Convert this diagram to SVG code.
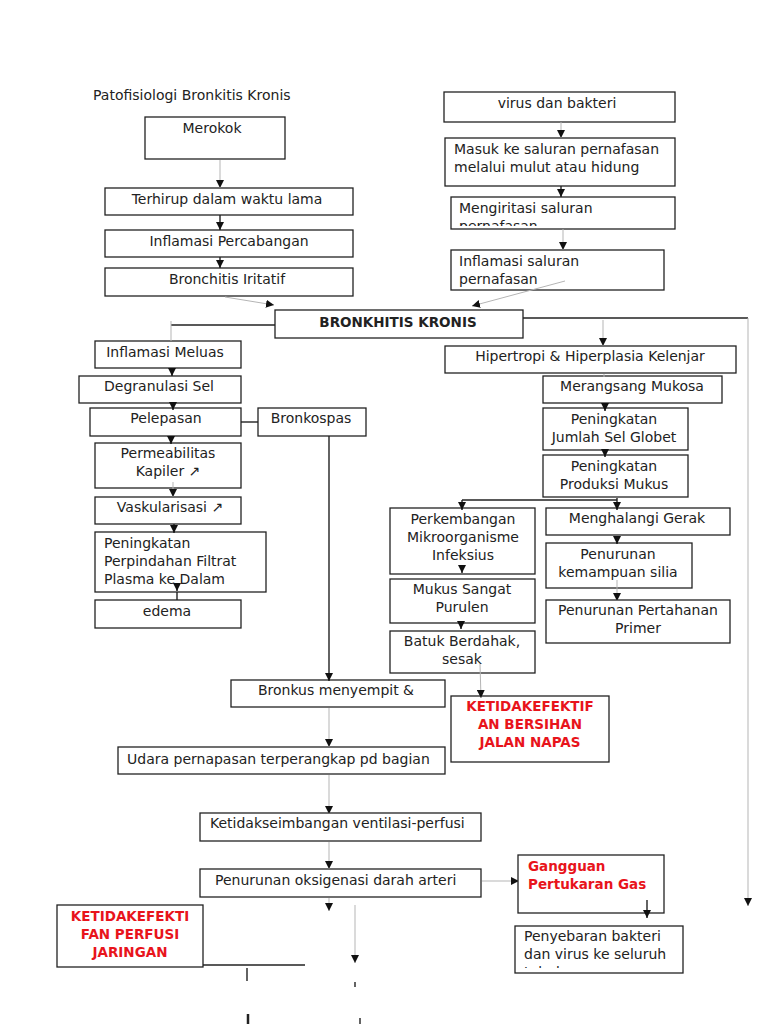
<svg xmlns="http://www.w3.org/2000/svg" width="768" height="1024" viewBox="0 0 768 1024">
<style>
text{font-family:"DejaVu Sans","Liberation Sans",sans-serif;font-size:14px;fill:#222}
.c{text-anchor:middle}
.b{font-weight:bold;font-size:13.5px}
.r{fill:#e8141b;font-weight:bold;font-size:13.5px}
rect{fill:#fff;stroke:#222;stroke-width:1.3}
.d{stroke:#222;stroke-width:1.4;fill:none}
.g{stroke:#b5b5b5;stroke-width:1;fill:none}
.a{marker-end:url(#ah)}
</style>
<defs>
<marker id="ah" viewBox="0 0 8 8" refX="8" refY="4" markerWidth="8" markerHeight="8" markerUnits="userSpaceOnUse" orient="auto"><path d="M0,0 L8,4 L0,8 z" fill="#111"/></marker>
<clipPath id="c1"><rect x="451" y="197" width="224" height="29"/></clipPath>
<clipPath id="c2"><rect x="515" y="926" width="168" height="42"/></clipPath>
</defs>
<rect width="768" height="1024" style="fill:#fff;stroke:none"/>
<text x="93" y="100">Patofisiologi Bronkitis Kronis</text>

<g id="merokok"><rect x="145" y="117" width="140" height="42"/><text class="c" x="212" y="133">Merokok</text></g>
<g id="terhirup"><rect x="105" y="188" width="248" height="27"/><text class="c" x="227" y="204">Terhirup dalam waktu lama</text></g>
<g id="inflamasi-percabangan"><rect x="105" y="230" width="248" height="27"/><text class="c" x="229" y="246">Inflamasi Percabangan</text></g>
<g id="bronchitis-iritatif"><rect x="105" y="268" width="248" height="28"/><text class="c" x="227" y="284">Bronchitis Iritatif</text></g>

<g id="virus"><rect x="444" y="92" width="231" height="30"/><text class="c" x="557" y="108">virus dan bakteri</text></g>
<g id="masuk"><rect x="445" y="138" width="230" height="48"/><text x="454" y="154">Masuk ke saluran pernafasan</text><text x="454" y="172">melalui mulut atau hidung</text></g>
<g id="mengiritasi"><rect x="451" y="197" width="224" height="32"/><g clip-path="url(#c1)"><text x="459" y="213">Mengiritasi saluran</text><text x="459" y="231">pernafasan</text></g></g>
<g id="inflamasi-saluran"><rect x="451" y="250" width="213" height="40"/><text x="459" y="266">Inflamasi saluran</text><text x="459" y="284">pernafasan</text></g>

<g id="bronkhitis-kronis"><rect x="275" y="310" width="248" height="28"/><text class="c b" x="398" y="327">BRONKHITIS KRONIS</text></g>

<g id="inflamasi-meluas"><rect x="95" y="341" width="146" height="27"/><text class="c" x="165" y="357">Inflamasi Meluas</text></g>
<g id="degranulasi"><rect x="79" y="376" width="162" height="27"/><text class="c" x="159" y="391">Degranulasi Sel</text></g>
<g id="pelepasan"><rect x="90" y="408" width="151" height="28"/><text class="c" x="166" y="423">Pelepasan</text></g>
<g id="bronkospas"><rect x="258" y="408" width="108" height="28"/><text class="c" x="311" y="423">Bronkospas</text></g>
<g id="permeabilitas"><rect x="95" y="443" width="146" height="45"/><text class="c" x="168" y="458">Permeabilitas</text><text class="c" x="168" y="476">Kapiler ↗</text></g>
<g id="vaskularisasi"><rect x="95" y="497" width="146" height="27"/><text class="c" x="170" y="512">Vaskularisasi ↗</text></g>
<g id="peningkatan-filtrat"><rect x="95" y="532" width="171" height="60"/><text x="104" y="548">Peningkatan</text><text x="104" y="566">Perpindahan Filtrat</text><text x="104" y="584">Plasma ke Dalam</text></g>
<g id="edema"><rect x="95" y="600" width="146" height="28"/><text class="c" x="167" y="616">edema</text></g>

<g id="bronkus"><rect x="231" y="680" width="214" height="27"/><text class="c" x="336" y="695">Bronkus menyempit &amp;</text></g>
<g id="udara"><rect x="118" y="747" width="327" height="27"/><text x="127" y="764">Udara pernapasan terperangkap pd bagian</text></g>
<g id="ketidakseimbangan"><rect x="200" y="813" width="281" height="28"/><text x="210" y="828">Ketidakseimbangan ventilasi-perfusi</text></g>
<g id="penurunan-oksigenasi"><rect x="200" y="869" width="281" height="28"/><text x="215" y="885">Penurunan oksigenasi darah arteri</text></g>
<g id="gangguan"><rect x="518" y="855" width="146" height="58"/><text class="r" x="528" y="871">Gangguan</text><text class="r" x="528" y="889">Pertukaran Gas</text></g>
<g id="penyebaran"><rect x="515" y="926" width="168" height="47"/><g clip-path="url(#c2)"><text x="524" y="941">Penyebaran bakteri</text><text x="524" y="959">dan virus ke seluruh</text><text x="524" y="977">tubuh</text></g></g>
<g id="perfusi"><rect x="57" y="905" width="146" height="62"/><text class="c r" x="130" y="921">KETIDAKEFEKTI</text><text class="c r" x="130" y="939">FAN PERFUSI</text><text class="c r" x="130" y="957">JARINGAN</text></g>

<g id="hipertropi"><rect x="445" y="346" width="291" height="27"/><text class="c" x="590" y="361">Hipertropi &amp; Hiperplasia Kelenjar</text></g>
<g id="merangsang"><rect x="543" y="376" width="179" height="27"/><text class="c" x="632" y="391">Merangsang Mukosa</text></g>
<g id="jumlah-sel"><rect x="543" y="408" width="145" height="42"/><text class="c" x="614" y="424">Peningkatan</text><text class="c" x="614" y="442">Jumlah Sel Globet</text></g>
<g id="produksi-mukus"><rect x="543" y="455" width="145" height="42"/><text class="c" x="614" y="471">Peningkatan</text><text class="c" x="614" y="489">Produksi Mukus</text></g>
<g id="perkembangan"><rect x="390" y="508" width="145" height="66"/><text class="c" x="463" y="524">Perkembangan</text><text class="c" x="463" y="542">Mikroorganisme</text><text class="c" x="463" y="560">Infeksius</text></g>
<g id="mukus-purulen"><rect x="390" y="579" width="145" height="44"/><text class="c" x="462" y="594">Mukus Sangat</text><text class="c" x="462" y="612">Purulen</text></g>
<g id="batuk"><rect x="390" y="631" width="145" height="42"/><text class="c" x="462" y="646">Batuk Berdahak,</text><text class="c" x="462" y="664">sesak</text></g>
<g id="bersihan"><rect x="451" y="696" width="158" height="66"/><text class="c r" x="530" y="711">KETIDAKEFEKTIF</text><text class="c r" x="530" y="729">AN BERSIHAN</text><text class="c r" x="530" y="747">JALAN NAPAS</text></g>
<g id="menghalangi"><rect x="546" y="508" width="184" height="27"/><text class="c" x="637" y="523">Menghalangi Gerak</text></g>
<g id="silia"><rect x="546" y="543" width="146" height="45"/><text class="c" x="618" y="559">Penurunan</text><text class="c" x="618" y="577">kemampuan silia</text></g>
<g id="pertahanan"><rect x="546" y="600" width="184" height="43"/><text class="c" x="638" y="615">Penurunan Pertahanan</text><text class="c" x="638" y="633">Primer</text></g>

<g id="connectors">
<line class="g a" x1="220" y1="160" x2="220" y2="188"/>
<line class="d a" x1="220" y1="215" x2="220" y2="230"/>
<line class="d a" x1="220" y1="257" x2="220" y2="268"/>
<line class="g a" x1="225" y1="297" x2="274" y2="305"/>
<line class="g a" x1="561" y1="122" x2="561" y2="138"/>
<line class="d a" x1="561" y1="186" x2="561" y2="197"/>
<line class="g a" x1="563" y1="229" x2="563" y2="250"/>
<line class="g a" x1="565" y1="281" x2="472" y2="306"/>
<line class="d" x1="275" y1="325" x2="171" y2="325"/>
<line class="g" x1="171" y1="321" x2="171" y2="341"/>
<line class="d" x1="523" y1="318" x2="748" y2="318"/>
<line class="g a" x1="748" y1="318" x2="748" y2="906"/>
<line class="g a" x1="603" y1="320" x2="603" y2="346"/>
<line class="d a" x1="172" y1="368" x2="172" y2="376"/>
<line class="d a" x1="173" y1="403" x2="173" y2="410"/>
<line class="d" x1="241" y1="422" x2="258" y2="422"/>
<line class="d a" x1="171" y1="436" x2="171" y2="444"/>
<line class="g a" x1="173" y1="482" x2="173" y2="497"/>
<line class="d a" x1="174" y1="524" x2="174" y2="533"/>
<line class="d a" x1="177" y1="584" x2="177" y2="591"/>
<line class="d" x1="177" y1="592" x2="177" y2="600"/>
<line class="d a" x1="329" y1="436" x2="329" y2="681"/>
<line class="g a" x1="329" y1="708" x2="329" y2="747"/>
<line class="g a" x1="329" y1="775" x2="329" y2="814"/>
<line class="g a" x1="329" y1="842" x2="329" y2="869"/>
<line class="g a" x1="482" y1="881" x2="519" y2="881"/>
<line class="g a" x1="329" y1="898" x2="329" y2="911"/>
<line class="g a" x1="355" y1="905" x2="355" y2="963"/>
<line class="d" x1="355" y1="982" x2="355" y2="987"/>
<line class="d" x1="360" y1="1018" x2="360" y2="1024"/>
<line class="d" x1="203" y1="965" x2="305" y2="965"/>
<line class="d" x1="247" y1="968" x2="247" y2="981"/>
<line class="d" x1="248" y1="1014" x2="248" y2="1024" style="stroke-width:2.5"/>
<line class="d a" x1="647" y1="900" x2="647" y2="918"/>
<line class="g" x1="604" y1="374" x2="604" y2="377"/>
<line class="d a" x1="605" y1="404" x2="605" y2="411"/>
<line class="d a" x1="605" y1="451" x2="605" y2="457"/>
<line class="d" x1="462" y1="500" x2="617" y2="500"/>
<line class="d a" x1="462" y1="500" x2="462" y2="510"/>
<line class="d a" x1="617" y1="498" x2="617" y2="510"/>
<line class="d a" x1="462" y1="565" x2="462" y2="573"/>
<line class="d a" x1="461" y1="621" x2="461" y2="629"/>
<line class="g a" x1="480" y1="664" x2="481" y2="698"/>
<line class="d a" x1="617" y1="536" x2="617" y2="544"/>
<line class="g a" x1="617" y1="580" x2="617" y2="601"/>
</g>
</svg>
